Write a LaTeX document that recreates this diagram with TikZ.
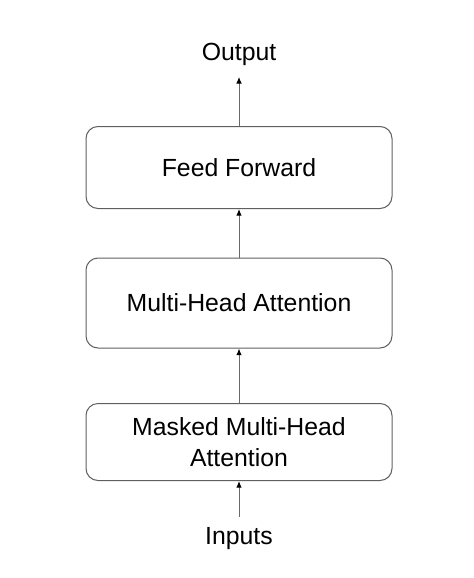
\documentclass[tikz,border=0pt]{standalone}
\usepackage{fontspec}
\setmainfont{Liberation Sans}
\usetikzlibrary{arrows.meta,positioning}
\definecolor{edgegray}{HTML}{5F5F5F}
\definecolor{linegray}{HTML}{6A6A6A}
\tikzset{>={Latex[length=5pt,width=4.2pt,black]},
	block/.style={rectangle,rounded corners=9pt,draw=edgegray,line width=0.75pt,minimum width=229.5pt,align=center,font=\fontsize{18.6}{23}\selectfont},
	lbl/.style={inner sep=8.2pt,font=\fontsize{18.6}{23}\selectfont},
	link/.style={->,draw=linegray,line width=0.75pt}}

\begin{document}
\begin{tikzpicture}[x=0.75pt,y=-0.75pt]
	\useasboundingbox (0,0) rectangle (474,578);
	\node (out) at (239,54.5) [lbl] {Output};
	\node (ff) at (239,167.5) [block,minimum height=61.5pt] {Feed Forward};
	\node (mha) at (239,303) [block,minimum height=67.5pt] {Multi-Head Attention};
	\node (mmha) at (239,442) [block,minimum height=57.75pt] {Masked Multi-Head\\Attention};
	\node (in) at (239,539) [lbl] {Inputs};
	\draw [link] (in) -- (mmha);
	\draw [link] (mmha) -- (mha);
	\draw [link] (mha) -- (ff);
	\draw [link] (ff) -- (out);
\end{tikzpicture}
\end{document}
